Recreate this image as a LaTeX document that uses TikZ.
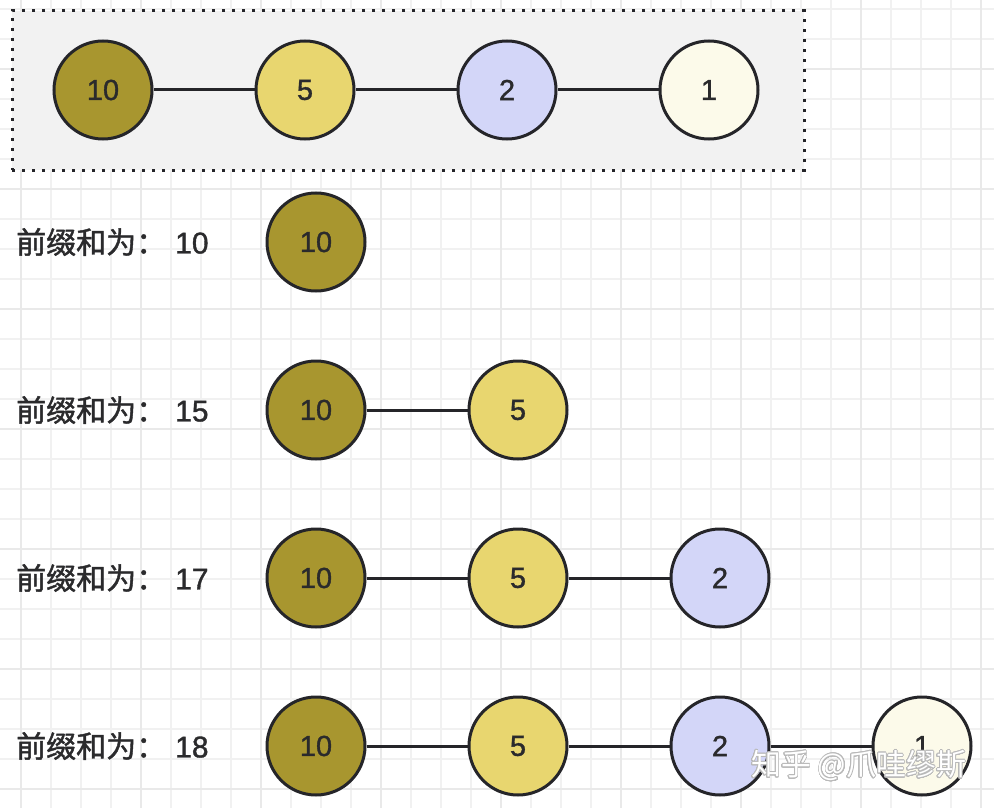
\documentclass[tikz,border=0pt]{standalone}
\usepackage{fontspec}
\setmainfont{Liberation Sans}[FakeBold=1.2]
\newfontfamily\cjk{Noto Sans CJK SC}[FakeBold=1.4]
\newfontfamily\wmfont{Noto Sans CJK SC}
\usepackage{contour}
\contournumber{24}
\definecolor{gridminor}{HTML}{F1F1F1}
\definecolor{gridmajor}{HTML}{E9E9E9}
\definecolor{boxfill}{HTML}{F2F2F2}
\definecolor{ink}{HTML}{252529}
\definecolor{cten}{HTML}{A8962F}
\definecolor{cfive}{HTML}{E8D66F}
\definecolor{ctwo}{HTML}{D3D6F8}
\definecolor{cone}{HTML}{FCFAEA}
\definecolor{txt}{HTML}{2A2A2C}
\begin{document}
\begin{tikzpicture}[x=1pt,y=-1pt,
  ball/.style={circle,draw=ink,line width=3pt,minimum size=98pt,inner sep=0pt,
    font=\fontsize{29}{30}\selectfont,text=txt},
  tenball/.style={ball,fill=cten},
  fiveball/.style={ball,fill=cfive},
  twoball/.style={ball,fill=ctwo},
  oneball/.style={ball,fill=cone},
  link/.style={draw=ink,line width=3pt},
  sumlabel/.style={anchor=west,inner sep=0pt,font=\fontsize{30}{31}\selectfont,text=txt},
]
\useasboundingbox (0,0) rectangle (994,808);
\fill[white] (0,0) rectangle (994,808);
% grid
\foreach \x in {21,51,...,994} \draw[gridminor,line width=1.5pt] (\x,0) -- (\x,808);
\foreach \y in {9,39,...,808} \draw[gridminor,line width=1.5pt] (0,\y) -- (994,\y);
\foreach \x in {21,141,...,994} \draw[gridmajor,line width=1.5pt] (\x,0) -- (\x,808);
\foreach \y in {69,189,...,808} \draw[gridmajor,line width=1.5pt] (0,\y) -- (994,\y);
% top box
\node[draw=ink,fill=boxfill,line width=3pt,dash pattern=on 3pt off 7pt,
  minimum width=792pt,minimum height=159pt,inner sep=0pt] (box) at (408,90.5) {};
\node[tenball] (t1) at (103,90) {10};
\node[fiveball] (t2) at (305,90) {5};
\node[twoball] (t3) at (507,90) {2};
\node[oneball] (t4) at (709,90) {1};
\draw[link] (t1) -- (t2);
\draw[link] (t2) -- (t3);
\draw[link] (t3) -- (t4);
% row 1
\node[sumlabel] (l1) at (16,242) {{\cjk 前缀和为：}\hspace{9pt}10};
\node[tenball] (a1) at (316,242) {10};
% row 2
\node[sumlabel] (l2) at (16,410) {{\cjk 前缀和为：}\hspace{9pt}15};
\node[tenball] (b1) at (316,410) {10};
\node[fiveball] (b2) at (518,410) {5};
\draw[link] (b1) -- (b2);
% row 3
\node[sumlabel] (l3) at (16,578) {{\cjk 前缀和为：}\hspace{9pt}17};
\node[tenball] (c1) at (316,578) {10};
\node[fiveball] (c2) at (518,578) {5};
\node[twoball] (c3) at (720,578) {2};
\draw[link] (c1) -- (c2);
\draw[link] (c2) -- (c3);
% row 4
\node[sumlabel] (l4) at (16,746) {{\cjk 前缀和为：}\hspace{9pt}18};
\node[tenball] (d1) at (316,746) {10};
\node[fiveball] (d2) at (518,746) {5};
\node[twoball] (d3) at (720,746) {2};
\node[oneball] (d4) at (922,746) {1};
\draw[link] (d1) -- (d2);
\draw[link] (d2) -- (d3);
\draw[link] (d3) -- (d4);
% watermark
\contourlength{0.7pt}
\node[anchor=west,inner sep=0pt,font=\wmfont\fontsize{30}{31}\selectfont] (wm) at (751,766)
  {\contour{gray!55}{\textcolor{white}{知乎 @爪哇缪斯}}};
\end{tikzpicture}
\end{document}
